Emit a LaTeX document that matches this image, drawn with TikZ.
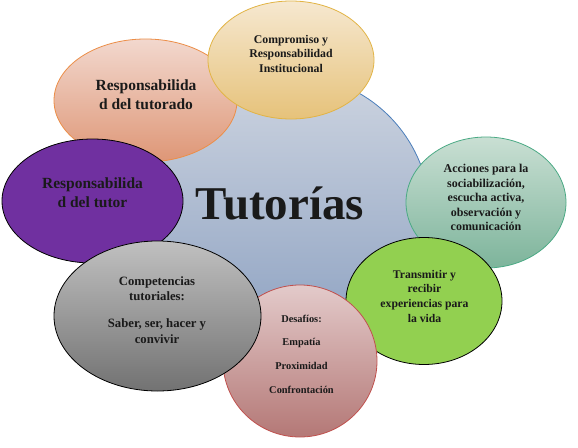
\documentclass[tikz,border=0pt]{standalone}
\usepackage{fontspec}
\setmainfont{Liberation Serif}
\usetikzlibrary{shapes.geometric}
\definecolor{blueTop}{HTML}{CDD4E0}
\definecolor{blueBot}{HTML}{8A9FC0}
\definecolor{blueLine}{HTML}{4A7EBB}
\definecolor{yelTop}{HTML}{F6E8D0}
\definecolor{yelBot}{HTML}{E6C27A}
\definecolor{yelLine}{HTML}{E2B445}
\definecolor{salTop}{HTML}{F2D8CE}
\definecolor{salBot}{HTML}{DE9676}
\definecolor{salLine}{HTML}{EC8E48}
\definecolor{purpleFill}{HTML}{7030A0}
\definecolor{tealTop}{HTML}{C9DFD3}
\definecolor{tealBot}{HTML}{7DB49B}
\definecolor{tealLine}{HTML}{4BAA85}
\definecolor{greenFill}{HTML}{92D050}
\definecolor{grayTop}{HTML}{C0C0C0}
\definecolor{grayBot}{HTML}{727272}
\definecolor{pinkTop}{HTML}{E3CACA}
\definecolor{pinkBot}{HTML}{B47876}
\definecolor{pinkLine}{HTML}{C0504D}
\definecolor{txt}{HTML}{1A1A1A}
\begin{document}
\begin{tikzpicture}[x=1pt,y=-1pt,
  blob/.style={ellipse, inner sep=0pt, line width=0.8pt},
  lbl/.style={align=center, inner sep=0pt, text=txt, font=\bfseries}]
\useasboundingbox (0,0) rectangle (578,447);
\fill[white] (0,0) rectangle (578,447);
% central circle
\node[circle, inner sep=0pt, minimum size=280pt, draw=blueLine, line width=0.8pt,
      top color=blueTop, bottom color=blueBot] (core) at (290,215) {};
% surrounding ellipses
\node[blob, minimum width=183pt, minimum height=123pt, draw=salLine,
      top color=salTop, bottom color=salBot] (tutorado) at (145.5,100.5) {};
\node[blob, minimum width=166pt, minimum height=118pt, draw=yelLine,
      top color=yelTop, bottom color=yelBot] (compromiso) at (291,60) {};
\node[blob, minimum width=181pt, minimum height=124pt, draw=black,
      fill=purpleFill] (tutor) at (92.5,201) {};
\node[blob, minimum width=160pt, minimum height=131pt, draw=tealLine,
      top color=tealTop, bottom color=tealBot] (acciones) at (486,202.5) {};
\node[blob, minimum width=156pt, minimum height=127pt, draw=black,
      fill=greenFill] (transmitir) at (424,301) {};
\node[blob, minimum width=154pt, minimum height=152pt, draw=pinkLine,
      top color=pinkTop, bottom color=pinkBot] (desafios) at (300,361) {};
\node[blob, minimum width=207pt, minimum height=150pt, draw=black,
      top color=grayTop, bottom color=grayBot] (competencias) at (157.5,316) {};
% texts
\node[lbl, font=\bfseries\fontsize{47}{50}\selectfont, anchor=base] (title) at (280,219) {Tutorías};
\node[lbl, font=\bfseries\fontsize{11.8}{14.5}\selectfont] (tcomp) at (291,53.5)
  {Compromiso y\\Responsabilidad\\Institucional};
\node[lbl, font=\bfseries\fontsize{15.5}{19}\selectfont] (ttutorado) at (146,95.2)
  {Responsabilida\\d del tutorado};
\node[lbl, font=\bfseries\fontsize{15.5}{19}\selectfont] (ttutor) at (92.5,193.2)
  {Responsabilida\\d del tutor};
\node[lbl, font=\bfseries\fontsize{12}{14.5}\selectfont] (tacc) at (486,197.9)
  {Acciones para la\\sociabilización,\\escucha activa,\\observación y\\comunicación};
\node[lbl, font=\bfseries\fontsize{11.7}{14.8}\selectfont] (ttrans) at (424.5,296.2)
  {Transmitir y\\recibir\\experiencias para\\la vida};
\node[lbl, font=\bfseries\fontsize{12.7}{15.5}\selectfont] (tcompet) at (157,309.7)
  {Competencias\\tutoriales:\\[11.5pt]Saber, ser, hacer y\\convivir};
\node[lbl, font=\bfseries\fontsize{10.4}{23.7}\selectfont] (tdes) at (301.5,354)
  {Desafíos:\\Empatía\\Proximidad\\Confrontación};
\end{tikzpicture}
\end{document}
